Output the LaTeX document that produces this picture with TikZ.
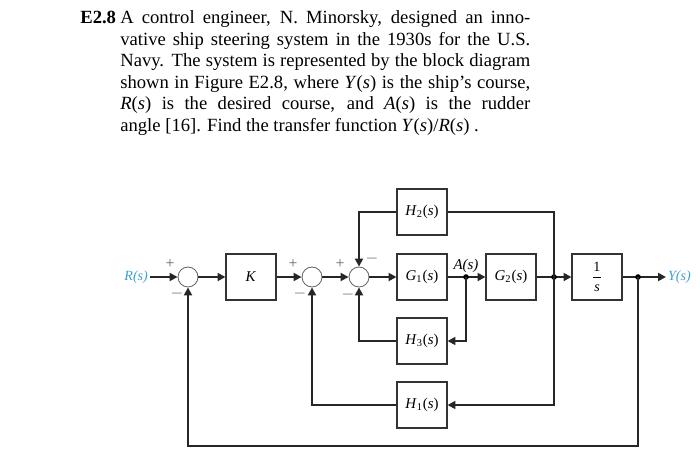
\documentclass[tikz,border=0pt]{standalone}
\usepackage{fontspec}
\setmainfont{Liberation Serif}
\usetikzlibrary{arrows.meta}
\definecolor{sig}{RGB}{60,160,210}
\newcommand{\iv}[1]{\textit{#1}}
\newcommand{\tf}[2]{\textit{#1}\textsubscript{#2}(\textit{s})}
\begin{document}
\begin{tikzpicture}[x=0.02cm,y=-0.02cm,
 blk/.style={draw=black!80,line width=0.6pt,minimum width=1cm,minimum height=0.92cm,inner sep=0pt,font=\fontsize{8.5}{9}\selectfont},
 sum/.style={draw=black!60,circle,minimum size=0.4cm,inner sep=0pt,line width=0.5pt},
 ln/.style={line width=1.1pt,black!85},
 ar/.style={ln,-{Triangle[length=4.5pt,width=4.5pt]}},
 sg/.style={font=\fontsize{9}{9}\selectfont,black!60,inner sep=0pt},
 tx/.style={anchor=base west,inner sep=0pt,font=\fontsize{10.6}{12}\selectfont}]
\useasboundingbox (0,0) rectangle (700,453);
% text
\node[tx,font=\fontsize{10.6}{12}\selectfont\bfseries] (e) at (80,23) {E2.8};
\node[tx] (l1) at (120,23) {\makebox[8.2cm][s]{A control engineer, N. Minorsky, designed an inno-}};
\node[tx] (l2) at (120,45) {\makebox[8.2cm][s]{vative ship steering system in the 1930s for the U.S.}};
\node[tx] (l3) at (120,66) {\makebox[8.2cm][s]{Navy. The system is represented by the block diagram}};
\node[tx] (l4) at (120,88) {\makebox[8.2cm][s]{shown in Figure E2.8, where \iv{Y}(\iv{s}) is the ship's course,}};
\node[tx] (l5) at (120,109) {\makebox[8.2cm][s]{\iv{R}(\iv{s}) is the desired course, and \iv{A}(\iv{s}) is the rudder}};
\node[tx] (l6) at (120,131) {angle [16]. Find the transfer function \iv{Y}(\iv{s})/\iv{R}(\iv{s}) .};
% blocks
\node[sum] (s1) at (188,277) {};
\node[blk] (K) at (251,277) {\iv{K}};
\node[sum] (s2) at (312,277) {};
\node[sum] (s3) at (359,277) {};
\node[blk] (G1) at (422,277) {\tf{G}{1}};
\node[blk] (H2) at (422,212) {\tf{H}{2}};
\node[blk] (H3) at (422,341) {\tf{H}{3}};
\node[blk] (H1) at (422,405) {\tf{H}{1}};
\node[blk] (G2) at (511,277) {\tf{G}{2}};
\node[blk] (I) at (597,277) {\fontsize{8}{8}\selectfont$\displaystyle\frac{\mbox{1}}{\mbox{\itshape s}}$};
\node[font=\fontsize{8}{9}\selectfont\itshape,text=sig,anchor=east,inner sep=1pt] (R) at (150,277) {R(s)};
\node[font=\fontsize{8}{9}\selectfont\itshape,text=sig,anchor=west,inner sep=1pt] (Y) at (666,277) {Y(s)};
\coordinate (ja) at (466,277);
\coordinate (jb) at (554,277);
\coordinate (jy) at (638,277);
\node[font=\fontsize{8.5}{9}\selectfont\itshape,anchor=south,inner sep=1pt] (A) at (466,275) {A(s)};
% forward
\draw[ar] (R) -- (s1);
\draw[ar] (s1) -- (K);
\draw[ar] (K) -- (s2);
\draw[ar] (s2) -- (s3);
\draw[ar] (s3) -- (G1);
\draw[ar] (G1) -- (G2);
\draw[ar] (G2) -- (I);
\draw[ar] (I) -- (Y);
\fill (ja) circle (1.6pt) (jb) circle (1.6pt) (jy) circle (1.6pt);
% feedback
\draw[ar] (ja) |- (H3);
\draw[ar] (H3) -| (s3);
\draw[ln] (jb) |- (H2.east) ;
\draw[ar] (H2) -| (s3);
\draw[ar] (jb) |- (H1);
\draw[ar] (H1) -| (s2);
\draw[ar] (jy) -- (638,446) -| (s1);
% signs
\node[sg] at (170,264) {+}; \node[sg] at (177,294) {$-$};
\node[sg] at (293,264) {+}; \node[sg] at (300,294) {$-$};
\node[sg] at (340,264) {+}; \node[sg] at (372,259) {$-$}; \node[sg] at (348,295) {$-$};
\end{tikzpicture}
\end{document}
